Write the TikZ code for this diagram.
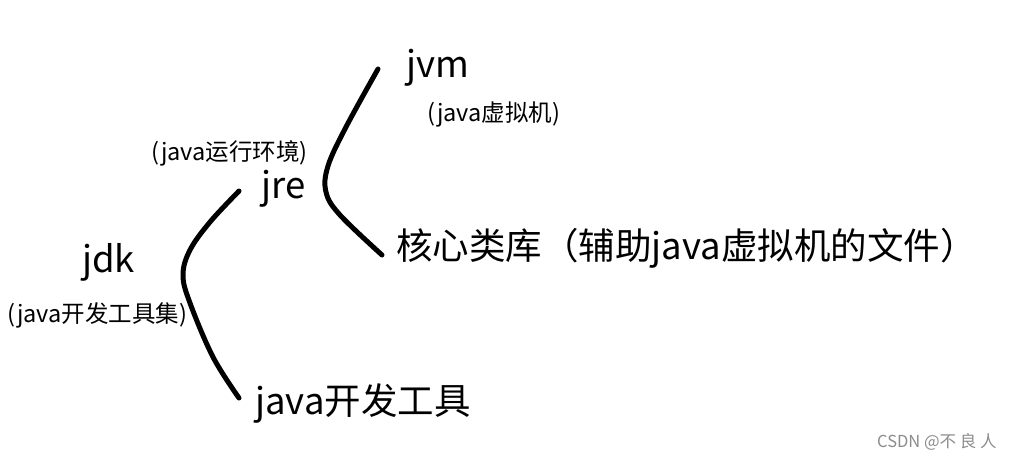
\documentclass[tikz,border=0pt]{standalone}
\usepackage{fontspec}
\setmainfont{Noto Sans CJK SC}
\begin{document}
\begin{tikzpicture}[x=1pt,y=-1pt,
  big/.style={inner sep=0pt,anchor=base west,font=\fontsize{36.5}{40}\selectfont},
  small/.style={inner sep=0pt,anchor=base west,font=\fontsize{23.5}{26}\selectfont},
  wmark/.style={inner sep=0pt,anchor=base west,text=black!45,font=\fontsize{16.5}{18}\selectfont},
  bracket/.style={line width=5pt,line cap=round,line join=round}]
\useasboundingbox[fill=white] (0,0) rectangle (1017,459);
\node[big] (jvm) at (406,77) {jvm};
\node[small] (jvmnote) at (427,121) {(java虚拟机)};
\node[small] (jrenote) at (151,160) {(java运行环境)};
\node[big] (jre) at (261,198) {jre};
\node[big] (lib) at (396,259) {核心类库（辅助java虚拟机的文件）};
\node[big] (jdk) at (82,272) {jdk};
\node[small] (jdknote) at (7,322) {(java开发工具集)};
\node[big] (tools) at (255,414) {java开发工具};
\node[wmark] (wm) at (877,447) {CSDN @不 良 人};
\coordinate (a1) at (378,69);
\coordinate (a2) at (382,255);
\coordinate (b1) at (239,191);
\coordinate (b2) at (239,398);
\draw[bracket] plot[smooth,tension=0.6] coordinates {(a1) (346,127) (328,166) (326,192) (340,215) (a2)};
\draw[bracket] plot[smooth,tension=0.6] coordinates {(b1) (210,222) (190,250) (183,275) (190,303) (213,357) (b2)};
\end{tikzpicture}
\end{document}
